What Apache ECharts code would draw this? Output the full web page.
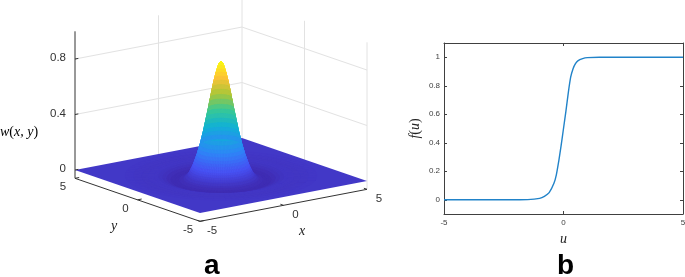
<!DOCTYPE html>
<html><head><meta charset="utf-8">
<style>html,body{margin:0;padding:0;background:#fff}#c{width:685px;height:277px}</style>
<script src="https://cdn.jsdelivr.net/npm/echarts@6/dist/echarts.min.js"></script>
</head><body><div id="c"></div>
<script>
// Panel a: radial profile of the surface
const radii = [0,.05,.1,.15,.2,.25,.3,.35,.4,.45,.5,.55,.6,.65,.7,.75,.8,.85,.9,.95,1,1.05,1.1,1.15,1.2,1.25,1.3,1.35,1.4,1.45,1.5,1.55,1.6,1.7,1.8,2,2.2,2.4,2.6,2.8,3,3.2,3.5,3.8,4.2,4.6];
const heights = [.82,.815,.805,.785,.76,.735,.705,.675,.64,.605,.565,.53,.49,.455,.42,.385,.35,.315,.285,.255,.225,.2,.175,.15,.13,.11,.09,.07,.055,.04,.025,.012,.005,-.01,-.02,-.03,-.035,-.03,-.02,-.012,-.006,-.003,-.005,-.007,-.003,0];
const xTicks3d = [-5,0,5];
const yTicks3d = [-5,0,5];
const zTicks3d = [0,.4,.8];
// Panel b
const uValues = [-5,-2,-1.5,-1,-.8,-.6,-.4,-.3,-.2,-.1,0,.1,.2,.3,.4,.5,.6,.8,1,1.5,2,5];
const fValues = [0,0,.001,.01,.024,.05,.115,.175,.27,.38,.5,.62,.75,.86,.92,.955,.975,.99,.997,1,1,1];
const uTicks = [-5,0,5];
const fTicks = [0,.2,.4,.6,.8,1];

const parula = [[62,38,168],[72,82,244],[46,135,247],[18,177,214],[55,200,151],[171,199,57],[254,195,56],[249,251,21]];
function colorOf(z){
  let t=(z+.05)/.87*(parula.length-1); t=Math.max(0,Math.min(parula.length-1.001,t));
  const i=Math.floor(t),f=t-i,a=parula[i],b=parula[i+1];
  return 'rgb('+[0,1,2].map(k=>Math.round(a[k]+(b[k]-a[k])*f)).join(',')+')';
}
// orthographic view of the box
const view={cx:221,cy:175.5,xx:16.7,xy:-3.2,yx:-12.5,yy:-4.3,zs:138.7};
function project(x,y,z){return [view.cx+view.xx*x+view.yx*y, view.cy+view.xy*x+view.yy*y-view.zs*z];}
const FLOOR=-.06, TOP=1, ANG=90, CAP=radii.indexOf(1);

// surface cells: [ring, angle]; ring -1 = the flat square
const cells=[[-1,0]];
for(let i=radii.length-2;i>=CAP;i--) for(let j=0;j<ANG;j++) cells.push([i,j]);
const cap=[];
for(let i=0;i<CAP;i++) for(let j=0;j<ANG;j++) cap.push([i,j]);
function groundY(c){const r=(radii[c[0]]+radii[c[0]+1])/2,a=(c[1]+.5)/ANG*2*Math.PI;return project(r*Math.cos(a),r*Math.sin(a),0)[1];}
cap.sort((p,q)=>groundY(q)-groundY(p));
cells.push(...cap);

function surfaceItem(params,api){
  const i=api.value(0),j=api.value(1);
  let pts,fill;
  if(i<0){pts=[[-5,-5],[5,-5],[5,5],[-5,5]].map(p=>api.coord(project(p[0],p[1],0)));fill=colorOf(0);}
  else{
    const a0=j/ANG*2*Math.PI,a1=(j+1)/ANG*2*Math.PI,r0=radii[i],r1=radii[i+1],z0=heights[i],z1=heights[i+1];
    pts=[[r0,a0,z0],[r1,a0,z1],[r1,a1,z1],[r0,a1,z0]].map(p=>api.coord(project(p[0]*Math.cos(p[1]),p[0]*Math.sin(p[1]),p[2])));
    fill=colorOf((z0+z1)/2);
  }
  return {type:'polygon',shape:{points:pts},style:{fill:fill,stroke:i<0?null:fill,lineWidth:.5}};
}
// box: [kind, tick]
const box=[];
zTicks3d.slice(1).forEach(z=>box.push(['gz',z]));
box.push(['gv',0],['gy',0],['gy',-5],['gb',0]);
const axisMarks=[['az',0],['ay',0],['ax',0]];
zTicks3d.forEach(z=>axisMarks.push(['tz',z]));
yTicks3d.forEach(y=>axisMarks.push(['ty',y]));
xTicks3d.forEach(x=>axisMarks.push(['tx',x]));
function polyline(api,list,color,w){return {type:'polyline',shape:{points:list.map(p=>api.coord(project(p[0],p[1],p[2])))},style:{stroke:color,lineWidth:w,fill:null}};}
function boxItem(params,api){
  const d=box[params.dataIndex],v=d[1];
  if(d[0]==='gz')return polyline(api,[[-5,5,v],[5,5,v],[5,-5,v]],'#e2e2e2',1);
  if(d[0]==='gv')return polyline(api,[[v,5,FLOOR],[v,5,TOP]],'#e2e2e2',1);
  if(d[0]==='gy')return polyline(api,[[5,v,FLOOR],[5,v,TOP]],'#e2e2e2',1);
  return polyline(api,[[5,5,FLOOR],[5,5,TOP]],'#e2e2e2',1);
}
function markItem(params,api){
  const d=axisMarks[params.dataIndex],v=d[1],C='#333333';
  if(d[0]==='az')return polyline(api,[[-5,5,FLOOR],[-5,5,TOP]],C,1);
  if(d[0]==='ay')return polyline(api,[[-5,5,FLOOR],[-5,-5,FLOOR]],C,1);
  if(d[0]==='ax')return polyline(api,[[-5,-5,FLOOR],[5,-5,FLOOR]],C,1);
  if(d[0]==='tz')return polyline(api,[[-5,5,v],[-4.8,5,v]],C,1);
  if(d[0]==='ty')return polyline(api,[[-5,v,FLOOR],[-4.75,v,FLOOR]],C,1);
  return polyline(api,[[v,-5,FLOOR],[v,-4.75,FLOOR]],C,1);
}
const tickTexts=[];
zTicks3d.forEach(z=>tickTexts.push(['z',z]));
yTicks3d.forEach(y=>tickTexts.push(['y',y]));
xTicks3d.forEach(x=>tickTexts.push(['x',x]));
const labelOffset={z:[-9,-1],y:[-12,9],x:[12,10]};
function textItem(params,api){
  const d=tickTexts[params.dataIndex],v=d[1],k=d[0];
  const base=k==='z'?project(-5,5,v):k==='y'?project(-5,v,FLOOR):project(v,-5,FLOOR);
  const p=api.coord(base),o=labelOffset[k];
  return {type:'text',x:p[0]+o[0],y:p[1]+o[1],style:{text:String(v),font:'11.5px "Liberation Sans"',fill:'#333333',align:k==='z'?'right':'center',verticalAlign:'middle'}};
}
const hidden={show:false,type:'value'};
const tickStyle={inside:true,length:3,lineStyle:{color:'#404040',width:1}};
const lineSty={lineStyle:{color:'#404040',width:1}};
const labelSty={color:'#404040',fontSize:8,fontFamily:'Liberation Sans'};
const mathRich={i:{fontFamily:'Liberation Serif',fontStyle:'italic',fontSize:14,color:'#222'},n:{fontFamily:'Liberation Serif',fontSize:14,color:'#222'}};

const chart=echarts.init(document.getElementById('c'),null,{renderer:'canvas'});
chart.setOption({
  animation:false,backgroundColor:'#fff',
  grid:[{left:0,top:0,width:685,height:277,show:false,outerBoundsMode:'none'},{left:444,top:43,width:239,height:171,show:false,outerBoundsMode:'none'}],
  xAxis:[
    Object.assign({},hidden,{gridIndex:0,min:0,max:685}),
    {type:'value',gridIndex:1,min:-5,max:5,position:'bottom',
      axisLine:Object.assign({onZero:false},lineSty),axisTick:Object.assign({customValues:uTicks},tickStyle),splitLine:{show:false},
      axisLabel:Object.assign({customValues:uTicks,margin:5,showMinLabel:true,showMaxLabel:true},labelSty),
      name:'{i|u}',nameLocation:'middle',nameGap:18,nameTextStyle:{rich:mathRich}},
    {type:'value',gridIndex:1,min:-5,max:5,position:'top',
      axisLine:Object.assign({onZero:false},lineSty),axisTick:Object.assign({customValues:uTicks},tickStyle),axisLabel:{show:false},splitLine:{show:false}}
  ],
  yAxis:[
    Object.assign({},hidden,{gridIndex:0,min:0,max:277,inverse:true}),
    {type:'value',gridIndex:1,min:-.1,max:1.1,position:'left',
      axisLine:Object.assign({onZero:false},lineSty),axisTick:Object.assign({customValues:fTicks},tickStyle),splitLine:{show:false},
      axisLabel:Object.assign({customValues:fTicks,margin:4},labelSty),
      name:'{i|f}{n|(}{i|u}{n|)}',nameLocation:'middle',nameGap:22,nameTextStyle:{rich:mathRich}},
    {type:'value',gridIndex:1,min:-.1,max:1.1,position:'right',
      axisLine:Object.assign({onZero:false},lineSty),axisTick:Object.assign({customValues:fTicks},tickStyle),axisLabel:{show:false},splitLine:{show:false}}
  ],
  series:[
    {type:'custom',coordinateSystem:'cartesian2d',xAxisIndex:0,yAxisIndex:0,silent:true,clip:false,data:box.map((b,i)=>[i]),renderItem:boxItem,z:1},
    {type:'custom',coordinateSystem:'cartesian2d',xAxisIndex:0,yAxisIndex:0,silent:true,clip:false,progressive:0,data:cells,renderItem:surfaceItem,z:2},
    {type:'custom',coordinateSystem:'cartesian2d',xAxisIndex:0,yAxisIndex:0,silent:true,clip:false,data:axisMarks.map((b,i)=>[i]),renderItem:markItem,z:3},
    {type:'custom',coordinateSystem:'cartesian2d',xAxisIndex:0,yAxisIndex:0,silent:true,clip:false,data:tickTexts.map((b,i)=>[i]),renderItem:textItem,z:4},
    {type:'line',xAxisIndex:1,yAxisIndex:1,data:uValues.map((u,i)=>[u,fValues[i]]),smooth:.25,showSymbol:false,silent:true,lineStyle:{color:'#2183c9',width:1.4},z:5}
  ],
  graphic:[
    {type:'text',left:0,top:125,style:{text:'{i|w}{n|(}{i|x, y}{n|)}',rich:mathRich}},
    {type:'text',left:111,top:219,style:{text:'y',font:'italic 14px "Liberation Serif"',fill:'#222'}},
    {type:'text',left:299,top:224,style:{text:'x',font:'italic 14px "Liberation Serif"',fill:'#222'}},
    {type:'text',left:204,top:252,style:{text:'a',font:'bold 28px "Liberation Sans"',fill:'#000'}},
    {type:'text',left:557,top:252,style:{text:'b',font:'bold 28px "Liberation Sans"',fill:'#000'}}
  ]
});
</script></body></html>
